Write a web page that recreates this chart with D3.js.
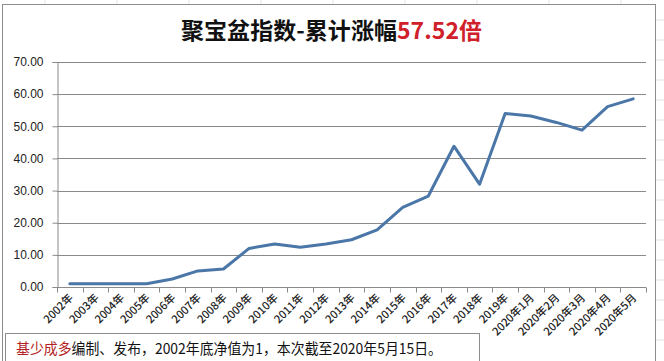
<!DOCTYPE html>
<html>
<head>
<meta charset="utf-8">
<script src="https://cdn.jsdelivr.net/npm/d3@7"></script>
<style>
  body { margin: 0; background: #fff; }
  svg { display: block; }
</style>
</head>
<body>
<div class="chartWrapper"></div>
<script>
const width = 664, height = 361;

const categories = ["2002年", "2003年", "2004年", "2005年", "2006年", "2007年", "2008年", "2009年",
  "2010年", "2011年", "2012年", "2013年", "2014年", "2015年", "2016年", "2017年", "2018年", "2019年",
  "2020年1月", "2020年2月", "2020年3月", "2020年4月", "2020年5月"];
const values = [1, 1, 1, 1, 2.5, 5.0, 5.6, 12.0, 13.4, 12.4, 13.4, 14.7, 17.8, 24.8, 28.3, 43.8,
  32.0, 54.0, 53.2, 51.2, 48.8, 56.1, 58.52];
const yTicks = [0, 10, 20, 30, 40, 50, 60, 70];

const margin = { left: 57, right: 18, top: 62, bottom: 74 };

const svg = d3.select(".chartWrapper").append("svg")
  .attr("width", width)
  .attr("height", height);

// faint spreadsheet cells behind the chart
const cellLines = svg.append("g").attr("stroke", "#e3e3e3");
[45, 117, 189, 261, 333, 405, 477, 549, 621].forEach(x => {
  cellLines.append("line").attr("x1", x).attr("x2", x).attr("y1", 0).attr("y2", 4);
});
[20, 40, 60, 80, 100, 120, 140, 160, 180, 200, 220, 240, 260, 280, 300, 320, 340].forEach(y => {
  cellLines.append("line").attr("x1", 656).attr("x2", 664).attr("y1", y).attr("y2", y);
});

// chart frame
svg.append("rect")
  .attr("x", 2.5).attr("y", 4.5)
  .attr("width", 653).attr("height", 360)
  .attr("fill", "#fff")
  .attr("stroke", "#8c8c8c");

const x = d3.scaleBand()
  .domain(categories)
  .range([margin.left, width - margin.right]);

const y = d3.scaleLinear()
  .domain([0, 70])
  .range([height - margin.bottom, margin.top]);

// gridlines
svg.append("g")
  .selectAll("line")
  .data(yTicks.slice(1))
  .join("line")
  .attr("x1", margin.left)
  .attr("x2", width - margin.right)
  .attr("y1", d => Math.round(y(d)) + 0.5)
  .attr("y2", d => Math.round(y(d)) + 0.5)
  .attr("stroke", "#8a8a8a");

// y axis
const yAxis = svg.append("g")
  .attr("transform", `translate(${margin.left + 0.5},0)`)
  .call(d3.axisLeft(y).tickValues(yTicks).tickFormat(d3.format(".2f")).tickSize(5).tickPadding(9));
yAxis.select(".domain").attr("stroke", "#8a8a8a");
yAxis.selectAll(".tick line").attr("stroke", "#8a8a8a");
yAxis.selectAll("text")
  .attr("font-family", "'Liberation Sans', Arial, sans-serif")
  .attr("font-size", 12)
  .attr("fill", "#222");

// x axis with ticks on category boundaries
const xAxisG = svg.append("g")
  .attr("transform", `translate(0,${Math.round(y(0)) + 0.5})`);
xAxisG.append("line")
  .attr("x1", margin.left).attr("x2", width - margin.right)
  .attr("stroke", "#8a8a8a");
const boundaries = categories.map(c => x(c)).concat([x.range()[1]]);
xAxisG.selectAll(".tk")
  .data(boundaries)
  .join("line")
  .attr("class", "tk")
  .attr("x1", d => Math.round(d) + 0.5)
  .attr("x2", d => Math.round(d) + 0.5)
  .attr("y1", 0).attr("y2", 5)
  .attr("stroke", "#8a8a8a");
xAxisG.selectAll("text")
  .data(categories)
  .join("text")
  .attr("transform", d => `translate(${x(d) + x.bandwidth() / 2 + 4},${11}) rotate(-45)`)
  .attr("text-anchor", "end")
  .attr("font-family", "'Noto Sans CJK SC', sans-serif")
  .attr("font-size", 11)
  .attr("font-weight", 500)
  .attr("fill", "#222")
  .text(d => d);

// the line
const line = d3.line()
  .x((d, i) => x(categories[i]) + x.bandwidth() / 2)
  .y(d => y(d));

svg.append("path")
  .datum(values)
  .attr("d", line)
  .attr("fill", "none")
  .attr("stroke", "#4a76a8")
  .attr("stroke-width", 3)
  .attr("stroke-linejoin", "round")
  .attr("stroke-linecap", "round");

// title
const title = svg.append("text")
  .attr("x", 181).attr("y", 39)
  .attr("textLength", 301)
  .attr("lengthAdjust", "spacing")
  .attr("font-family", "'Noto Sans CJK SC', sans-serif")
  .attr("font-size", 23)
  .attr("font-weight", "bold")
  .attr("fill", "#111");
title.append("tspan").text("聚宝盆指数-累计涨幅");
title.append("tspan").attr("fill", "#d0202a").text("57.52倍");

// footnote box
svg.append("rect")
  .attr("x", 5.5).attr("y", 333.5)
  .attr("width", 474).attr("height", 40)
  .attr("fill", "#fff")
  .attr("stroke", "#8c8c8c");
const note = svg.append("text")
  .attr("x", 16).attr("y", 354)
  .attr("textLength", 426)
  .attr("lengthAdjust", "spacingAndGlyphs")
  .attr("font-family", "'Noto Sans CJK SC', sans-serif")
  .attr("font-size", 15)
  .attr("fill", "#111");
note.append("tspan").attr("fill", "#b22222").text("基少成多");
note.append("tspan").text("编制、发布，2002年底净值为1，本次截至2020年5月15日。");
</script>
</body>
</html>
